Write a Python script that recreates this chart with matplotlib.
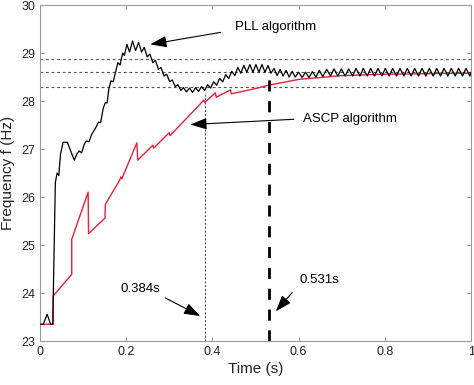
import matplotlib
matplotlib.use("Agg")
import matplotlib.pyplot as plt

plt.rcParams['font.family'] = ['Liberation Sans', 'DejaVu Sans']

# PLL algorithm response (black)
pll_t = [0.000, 0.008, 0.017, 0.025, 0.030, 0.036, 0.040, 0.044, 0.048, 0.054,
         0.064, 0.072, 0.080, 0.086, 0.091, 0.097, 0.103, 0.108, 0.114, 0.120,
         0.124, 0.130, 0.136, 0.141, 0.147, 0.152, 0.156, 0.160, 0.165, 0.170,
         0.176, 0.181, 0.186, 0.192, 0.196, 0.202, 0.208, 0.215, 0.222, 0.229,
         0.236, 0.242, 0.249, 0.255, 0.262, 0.268, 0.275, 0.281, 0.288, 0.294,
         0.301, 0.307, 0.314, 0.320, 0.327, 0.333, 0.340, 0.347, 0.354, 0.361,
         0.368, 0.375, 0.382, 0.389, 0.396, 0.403, 0.410, 0.417, 0.424, 0.431,
         0.438, 0.445, 0.452, 0.459, 0.466, 0.473, 0.480, 0.487, 0.494, 0.501,
         0.508, 0.515, 0.522, 0.529, 0.536, 0.543, 0.550, 0.557, 0.564, 0.571,
         0.578, 0.585, 0.592, 0.600, 0.608, 0.616, 0.624, 0.632, 0.640, 0.648,
         0.656, 0.665, 0.674, 0.682, 0.691, 0.699, 0.708, 0.716, 0.725, 0.733,
         0.742, 0.750, 0.759, 0.767, 0.776, 0.784, 0.793, 0.801, 0.810, 0.818,
         0.827, 0.835, 0.844, 0.852, 0.861, 0.869, 0.878, 0.886, 0.895, 0.903,
         0.912, 0.920, 0.929, 0.937, 0.946, 0.954, 0.963, 0.971, 0.980, 0.988,
         0.997, 1.000]
pll_f = [23.35, 23.35, 23.56, 23.35, 23.35, 26.30, 26.50, 26.45, 26.90, 27.14,
         27.14, 26.95, 26.77, 26.90, 26.96, 26.92, 27.10, 27.17, 27.15, 27.30,
         27.36, 27.45, 27.56, 27.55, 27.85, 27.97, 27.96, 28.25, 28.42, 28.40,
         28.62, 28.80, 28.75, 29.00, 28.95, 29.18, 29.02, 29.25, 29.05, 29.22,
         29.02, 29.12, 28.92, 28.98, 28.80, 28.85, 28.66, 28.70, 28.52, 28.56,
         28.40, 28.44, 28.30, 28.34, 28.22, 28.28, 28.19, 28.27, 28.18, 28.28,
         28.20, 28.30, 28.22, 28.34, 28.27, 28.40, 28.33, 28.47, 28.40, 28.55,
         28.47, 28.62, 28.53, 28.70, 28.58, 28.74, 28.60, 28.76, 28.60, 28.76,
         28.60, 28.76, 28.60, 28.74, 28.58, 28.68, 28.53, 28.66, 28.52, 28.64,
         28.50, 28.62, 28.50, 28.60, 28.49, 28.60, 28.49, 28.61, 28.50, 28.64,
         28.51, 28.66, 28.52, 28.67, 28.52, 28.67, 28.52, 28.67, 28.52, 28.68,
         28.52, 28.68, 28.52, 28.68, 28.52, 28.68, 28.52, 28.68, 28.52, 28.68,
         28.52, 28.68, 28.52, 28.68, 28.52, 28.68, 28.52, 28.68, 28.52, 28.68,
         28.52, 28.68, 28.52, 28.68, 28.52, 28.68, 28.52, 28.68, 28.52, 28.68,
         28.52, 28.60]

# ASCP algorithm response (red)
ascp_t = [0.000, 0.031, 0.031, 0.074, 0.074, 0.112, 0.113, 0.151, 0.152, 0.185,
          0.188, 0.190, 0.225, 0.227, 0.262, 0.264, 0.300, 0.302, 0.370, 0.380,
          0.382, 0.407, 0.409, 0.442, 0.444, 0.500, 0.531, 0.600, 0.700, 0.800,
          0.900, 1.000]
ascp_f = [23.35, 23.35, 23.94, 24.39, 25.12, 26.10, 25.24, 25.56, 25.85, 26.35,
          26.42, 26.38, 27.13, 26.77, 27.08, 27.02, 27.34, 27.28, 27.92, 28.02,
          27.97, 28.17, 28.08, 28.23, 28.15, 28.26, 28.33, 28.45, 28.53, 28.56,
          28.57, 28.58]

ref_levels = [28.88, 28.60, 28.30]
t_ascp_settle = 0.384
f_ascp_settle = 28.17
t_pll_settle = 0.531
f_pll_settle = 28.58

fig = plt.figure(figsize=(4.74, 3.85), dpi=100)
ax = fig.add_axes([0.084, 0.114, 0.910, 0.873])

for lvl in ref_levels:
    ax.axhline(lvl, color='#555555', lw=0.8, ls=(0, (2.5, 2.5)), zorder=1)

ax.plot([t_ascp_settle, t_ascp_settle], [23, f_ascp_settle],
        color='#444444', lw=0.7, ls=(0, (2, 2)), zorder=1)
ax.plot([t_pll_settle, t_pll_settle], [23, f_pll_settle],
        color='black', lw=2.0, ls=(0, (4, 3.5)), zorder=4)

ax.plot(ascp_t, ascp_f, color='#e8203a', lw=1.0, zorder=2,
        solid_joinstyle='round')
ax.plot(pll_t, pll_f, color='black', lw=0.9, zorder=3,
        solid_joinstyle='round')

arrow = dict(arrowstyle='-|>,head_length=1.0,head_width=0.35', color='black',
             lw=0.8, shrinkA=0, shrinkB=0)
ax.annotate('', xy=(0.256, 29.18), xytext=(0.419, 29.43), arrowprops=arrow)
ax.text(0.452, 29.54, 'PLL algorithm', fontsize=9.5, va='center', ha='left')
ax.annotate('', xy=(0.349, 27.51), xytext=(0.589, 27.62), arrowprops=arrow)
ax.text(0.609, 27.62, 'ASCP algorithm', fontsize=9.5, va='center', ha='left')
ax.annotate('', xy=(0.372, 23.52), xytext=(0.291, 23.90), arrowprops=arrow)
ax.text(0.186, 24.09, '0.384s', fontsize=9.5, va='center', ha='left')
ax.annotate('', xy=(0.547, 23.62), xytext=(0.585, 24.01), arrowprops=arrow)
ax.text(0.601, 24.27, '0.531s', fontsize=9.5, va='center', ha='left')

ax.set_xlim(0, 1)
ax.set_ylim(23, 30)
ax.set_xticks([0, 0.2, 0.4, 0.6, 0.8, 1])
ax.set_xticklabels(['0', '0.2', '0.4', '0.6', '0.8', '1'])
ax.set_yticks(range(23, 31))
ax.tick_params(direction='in', top=True, right=True, length=3, width=0.6,
               colors='#888888', labelcolor='#222222', labelsize=9)
for s in ax.spines.values():
    s.set_color('#999999')
    s.set_linewidth(0.8)

ax.set_xlabel('Time (s)', fontsize=11, color='#222222', labelpad=3)
ax.set_ylabel('Frequency f (Hz)', fontsize=11, color='#222222', labelpad=4)

fig.savefig('out.png', dpi=100)
